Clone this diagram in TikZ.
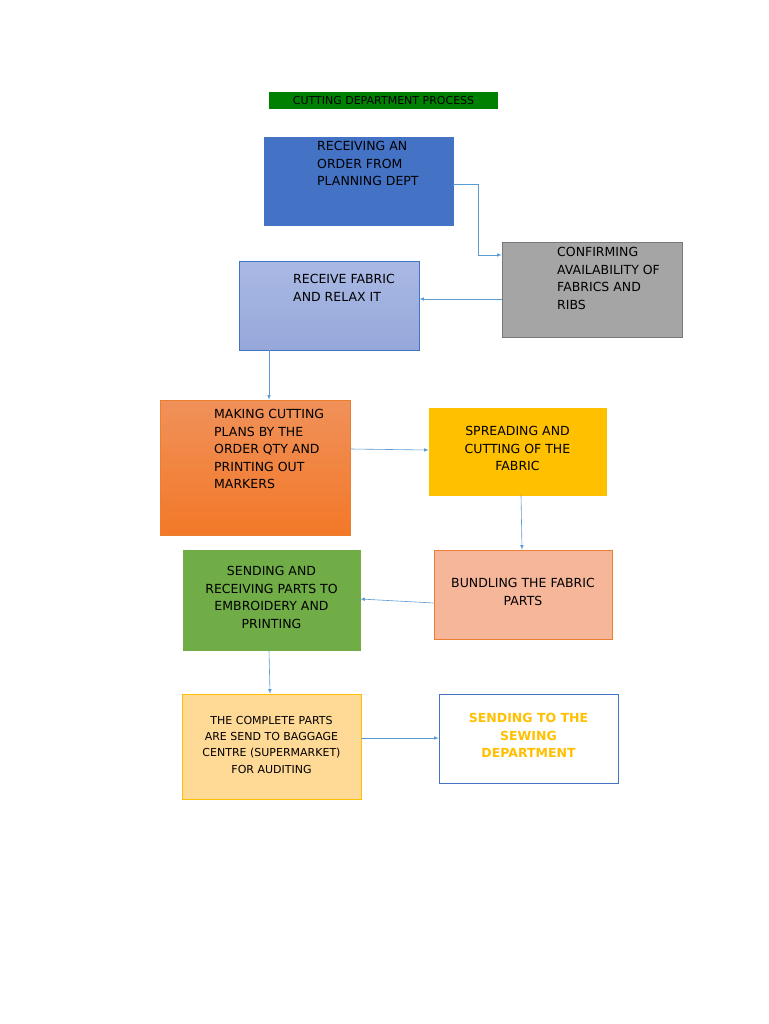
\documentclass[tikz,border=0pt]{standalone}
\usepackage{fontspec}
\setmainfont{DejaVu Sans}
\begin{document}
\begin{tikzpicture}[x=1pt,y=-1pt,
 box/.style={draw,rectangle,inner sep=0,line width=0.6pt},
 txt/.style={inner sep=0,font=\fontsize{12.5}{17.6}\selectfont,anchor=north west,align=left},
 ctxt/.style={inner sep=0,font=\fontsize{12.5}{17.6}\selectfont,anchor=north,align=center},
 arr/.style={draw=arrowblue,line width=0.6pt,-latex}]
\definecolor{arrowblue}{HTML}{5B9BD5}
\useasboundingbox (0,0) rectangle (768,1024);
\fill[white] (0,0) rectangle (768,1024);
\newcommand{\bx}[6]{\node[box,#6,minimum width={#4-#2},minimum height={#5-#3}] (#1) at ({(#2+#4)/2},{(#3+#5)/2}) {};}
% title
\fill[green!50!black] (269,92) rectangle (498,109);
\node[inner sep=0,font=\fontsize{11}{13}\selectfont] (title) at (383.5,100.5) {CUTTING DEPARTMENT PROCESS};
\bx{b1}{264}{137}{453}{225}{fill={rgb,255:red,68;green,114;blue,196},draw={rgb,255:red,68;green,114;blue,196}}
\node[txt] (t1) at (317,141) {RECEIVING AN\\ORDER FROM\\PLANNING DEPT};
\bx{b2}{502}{242}{682}{337}{fill={rgb,255:red,165;green,165;blue,165},draw={rgb,255:red,120;green,120;blue,120}}
\node[txt] (t2) at (557,247) {CONFIRMING\\AVAILABILITY OF\\FABRICS AND\\RIBS};
\shade[top color={rgb,255:red,170;green,185;blue,228},bottom color={rgb,255:red,150;green,168;blue,218}] (239,261) rectangle (419,350);
\bx{b3}{239}{261}{419}{350}{draw={rgb,255:red,68;green,114;blue,196}}
\node[txt] (t3) at (293,274) {RECEIVE FABRIC\\AND RELAX IT};
\shade[top color={rgb,255:red,240;green,145;blue,90},bottom color={rgb,255:red,243;green,120;blue,40}] (160,400) rectangle (350,535);
\bx{b4}{160}{400}{350}{535}{draw={rgb,255:red,237;green,125;blue,49}}
\node[txt] (t4) at (214,409) {MAKING CUTTING\\PLANS BY THE\\ORDER QTY AND\\PRINTING OUT\\MARKERS};
\bx{b5}{429}{408}{606}{495}{fill={rgb,255:red,255;green,192;blue,0},draw={rgb,255:red,255;green,192;blue,0}}
\node[ctxt] (t5) at (517.5,426) {SPREADING AND\\CUTTING OF THE\\FABRIC};
\bx{b6}{183}{550}{360}{650}{fill={rgb,255:red,112;green,173;blue,71},draw={rgb,255:red,112;green,173;blue,71}}
\node[ctxt] (t6) at (271.5,566) {SENDING AND\\RECEIVING PARTS TO\\EMBROIDERY AND\\PRINTING};
\bx{b7}{434}{550}{612}{639}{fill={rgb,255:red,246;green,182;blue,154},draw={rgb,255:red,237;green,125;blue,49}}
\node[ctxt] (t7) at (523,578) {BUNDLING THE FABRIC\\PARTS};
\bx{b8}{182}{694}{361}{799}{fill={rgb,255:red,255;green,217;blue,150},draw={rgb,255:red,255;green,192;blue,0}}
\node[ctxt,font=\fontsize{11}{16.3}\selectfont] (t8) at (271.5,716) {THE COMPLETE PARTS\\ARE SEND TO BAGGAGE\\CENTRE (SUPERMARKET)\\FOR AUDITING};
\bx{b9}{439}{694}{618}{783}{fill=white,draw={rgb,255:red,68;green,114;blue,196}}
\node[ctxt,font=\bfseries\fontsize{12.5}{17.6}\selectfont,text={rgb,255:red,255;green,192;blue,0}] (t9) at (528.5,713) {SENDING TO THE\\SEWING\\DEPARTMENT};
% arrows
\draw[arr] (b1.east |- 0,184) -- (478,184) -- (478,255) -- (b2.west |- 0,255);
\draw[arr] (b2.west |- 0,299) -- (b3.east |- 0,299);
\draw[arr] (b3.south -| 269,0) -- (b4.north -| 269,0);
\draw[arr] (b4.east |- 0,449) -- (b5.west |- 0,450);
\draw[arr] (b5.south -| 521,0) -- (b7.north -| 522,0);
\draw[arr] (b7.west |- 0,603) -- (b6.east |- 0,599);
\draw[arr] (b6.south -| 269,0) -- (b8.north -| 270,0);
\draw[arr] (b8.east |- 0,738) -- (b9.west |- 0,738);
\end{tikzpicture}
\end{document}
